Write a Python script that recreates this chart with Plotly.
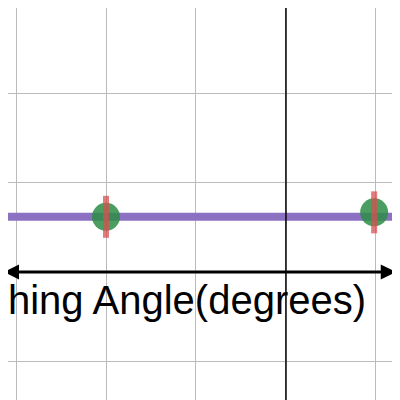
import plotly.graph_objects as go

line_x = [-3.3, 1.4]
line_y = [0.62, 0.62]
pts_x = [-2.0, 0.98]
pts_y = [0.62, 0.67]
label = "Launching Angle(degrees)"

fig = go.Figure()
fig.add_trace(go.Scatter(x=line_x, y=line_y, mode="lines",
                         line=dict(color="#8c70c2", width=8), hoverinfo="skip"))
fig.add_trace(go.Scatter(x=pts_x, y=pts_y, mode="markers",
                         marker=dict(size=28, color="rgba(45,140,70,0.85)"), hoverinfo="skip"))
fig.add_trace(go.Scatter(x=pts_x, y=pts_y, mode="markers",
                         marker=dict(symbol="line-ns", size=30,
                                     line=dict(width=6, color="rgba(215,80,80,0.75)")),
                         hoverinfo="skip"))
fig.add_vline(x=0, line=dict(color="black", width=1.5))
fig.add_annotation(x=1.22, y=0, ax=-3.15, ay=0, xref="x", yref="y", axref="x", ayref="y",
                   showarrow=True, arrowside="end+start", arrowhead=2, arrowsize=1,
                   arrowwidth=3, arrowcolor="black", text="")
fig.add_annotation(x=0.91, y=-0.31, xref="x", yref="y", text=label, showarrow=False,
                   xanchor="right", yanchor="middle",
                   font=dict(family="Liberation Sans", size=40, color="black"))
fig.update_xaxes(range=[-3.089, 1.356], dtick=1, showgrid=True, gridcolor="#bbbbbb",
                 gridwidth=1, zeroline=False, showticklabels=False)
fig.update_yaxes(range=[-1.528, 2.966], dtick=1, showgrid=True, gridcolor="#bbbbbb",
                 gridwidth=1, zeroline=False, showticklabels=False)
fig.update_layout(width=400, height=400, margin=dict(l=0, r=0, t=0, b=0),
                  plot_bgcolor="white", paper_bgcolor="white", showlegend=False)
fig.write_html("out.html")
